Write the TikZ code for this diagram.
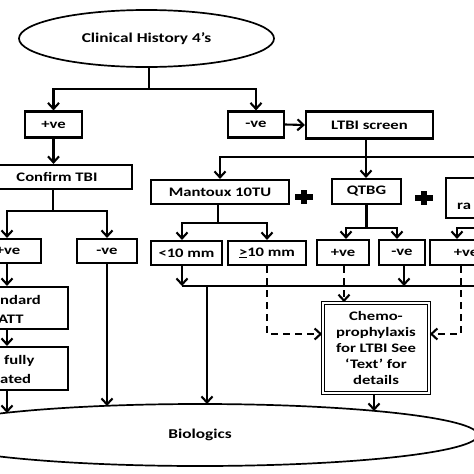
\documentclass[tikz,border=0pt]{standalone}
\usepackage{fontspec}
\setmainfont{Carlito}
\usepackage{graphicx}
\usetikzlibrary{arrows.meta,shapes.geometric}
\newcommand\sx[1]{\scalebox{1.28}[1]{#1}}
\begin{document}
\begin{tikzpicture}[x=1pt,y=-1pt,
  txt/.style={inner sep=0pt,font=\bfseries\fontsize{13}{16}\selectfont},
  box/.style={draw,line width=2.1pt,rectangle,inner sep=0pt,align=center,font=\bfseries\fontsize{13}{16}\selectfont},
  ell/.style={draw,line width=1.7pt,ellipse,inner sep=0pt,font=\bfseries\fontsize{13.5}{16}\selectfont},
  ln/.style={line width=2.1pt},
  arr/.style={line width=2.1pt,-{Straight Barb[length=6pt,width=11pt]}},
  dsharr/.style={line width=2.1pt,dash pattern=on 7pt off 5pt,-{Straight Barb[length=6pt,width=11pt]}}]
\useasboundingbox (0,0) rectangle (474,474);
\clip (0,0) rectangle (474,474);
\fill[white] (0,0) rectangle (474,474);

% nodes
\node[ell,minimum width=255pt,minimum height=57pt] (title) at (146.5,38.5) {\sx{Clinical History 4’s}};
\node[box,minimum width=57pt,minimum height=26pt] (ve1) at (53.5,124.5) {\sx{+ve}};
\node[box,minimum width=56pt,minimum height=26pt] (ve2) at (256,124.5) {\sx{-ve}};
\node[box,minimum width=127pt,minimum height=27pt] (ltbi) at (369.5,125) {\sx{LTBI screen}};
\node[box,minimum width=150pt,minimum height=24pt] (confirm) at (57,177) {\sx{Confirm TBI}};
\node[box,minimum width=138pt,minimum height=24pt] (mantoux) at (220,192) {\sx{Mantoux 10TU}};
\node[box,minimum width=69pt,minimum height=25pt] (qtbg) at (366.5,191.5) {\sx{QTBG}};
\node[box,minimum width=80pt,minimum height=40pt] (rbox) at (486,198) {};
\node[txt,anchor=west] (rtext) at (457,206) {\sx{ra}};
\node[box,minimum width=66pt,minimum height=24pt] (lpos) at (8,251) {\sx{+ve}};
\node[box,minimum width=60pt,minimum height=24pt] (lneg) at (107,251) {\sx{-ve}};
\node[box,minimum width=71pt,minimum height=24pt] (lt10) at (186.5,253) {\sx{<10 mm}};
\node[box,minimum width=78pt,minimum height=24pt] (ge10) at (267,253) {\sx{\underline{>}10 mm}};
\node[box,minimum width=52pt,minimum height=25pt] (qpos) at (343,252.5) {\sx{+ve}};
\node[box,minimum width=46pt,minimum height=25pt] (qneg) at (402,252.5) {\sx{-ve}};
\node[box,minimum width=72pt,minimum height=25pt] (rpos) at (466,252.5) {\sx{+ve}};
\node[box,minimum width=108pt,minimum height=42pt] (std) at (14,308) {};
\node[txt,anchor=west] (stdA) at (0,300) {\sx{ndard}};
\node[txt,anchor=west] (stdB) at (-2,319) {\sx{ATT}};
\node[box,minimum width=108pt,minimum height=43pt] (nft) at (14,368.5) {};
\node[txt,anchor=west] (nftA) at (4,361) {\sx{fully}};
\node[txt,anchor=west] (nftB) at (0,379) {\sx{ated}};
\node[box,double,double distance=1.2pt,line width=1.6pt,minimum width=106pt,minimum height=90pt] (chemo) at (376,348)
  {\sx{Chemo-}\\\sx{prophylaxis}\\\sx{for LTBI See}\\\sx{‘Text’ for}\\\sx{details}};
\node[ell,minimum width=556pt,minimum height=62pt] (bio) at (200,435) {\sx{Biologics}};

% plus signs
\coordinate (p1) at (304,197);
\coordinate (p2) at (424,198);
\foreach \p in {p1,p2}{
  \fill (\p) ++(-9,-2.6) rectangle ++(18,5.2);
  \fill (\p) ++(-2.6,-7) rectangle ++(5.2,14);
}

% helper columns and junctions
\coordinate (j1) at (149,89);
\coordinate (j2) at (366,157);
\coordinate (j3) at (218,223);
\coordinate (j4) at (53,211);
\coordinate (j6) at (366.5,228);
\coordinate (j7) at (486,228);
\coordinate (h1) at (182,286);
\coordinate (h2) at (480,286);
\coordinate (j8) at (207,286);
\coordinate (d1) at (267,334);
\coordinate (c7) at (7,0);
\coordinate (c182) at (182,0);
\coordinate (c344) at (344,0);
\coordinate (c346) at (346,0);
\coordinate (c397) at (397,0);
\coordinate (c404) at (404,0);
\coordinate (c457) at (457,0);
\coordinate (c461) at (461,0);
\coordinate (b7) at (7,413);
\coordinate (b107) at (107,406);
\coordinate (b207) at (207,404);
\coordinate (b374) at (374,411);

% connectors
\draw[ln] (title.south -| j1) -- (j1);
\draw[arr] (j1) -| (ve1.north);
\draw[arr] (j1) -| (ve2.north);
\draw[arr] (ve2.east) -- (ltbi.west);
\draw[ln] (ltbi.south -| j2) -- (j2);
\draw[arr] (j2) -| (mantoux.north);
\draw[arr] (j2) -- (j2 |- qtbg.north);
\draw[arr] (j2) -| (rbox.north);

\draw[arr] (ve1.south) -- (ve1.south |- confirm.north);
\draw[ln] (confirm.south -| j4) -- (j4);
\draw[arr] (j4) -| (c7 |- lpos.north);
\draw[arr] (j4) -| (lneg.north);
\draw[arr] (c7 |- lpos.south) -- (c7 |- std.north);
\draw[arr] (c7 |- std.south) -- (c7 |- nft.north);
\draw[arr] (c7 |- nft.south) -- (b7);
\draw[arr] (lneg.south) -- (b107);

\draw[ln] (mantoux.south -| j3) -- (j3);
\draw[arr] (j3) -| (c182 |- lt10.north);
\draw[arr] (j3) -| (ge10.north);
\draw[ln] (qtbg.south) -- (j6);
\draw[arr] (j6) -| (c346 |- qpos.north);
\draw[arr] (j6) -| (c397 |- qneg.north);
\draw[ln] (rbox.south) -- (j7);
\draw[arr] (j7) -| (c457 |- rpos.north);

\draw[arr] (c182 |- lt10.south) -- (h1);
\draw[ln] (h1) -- (h2);
\draw[arr] (j8) -- (b207);
\draw[arr] (c404 |- qneg.south) -- (c404 |- h1);
\draw[dsharr] (ge10.south) |- (chemo.west |- d1);
\draw[dsharr] (c344 |- qpos.south) -- (c344 |- chemo.north);
\draw[dsharr] (c461 |- rpos.south) |- (chemo.east |- d1);
\draw[arr] (chemo.south -| b374) -- (b374);
\end{tikzpicture}
\end{document}
